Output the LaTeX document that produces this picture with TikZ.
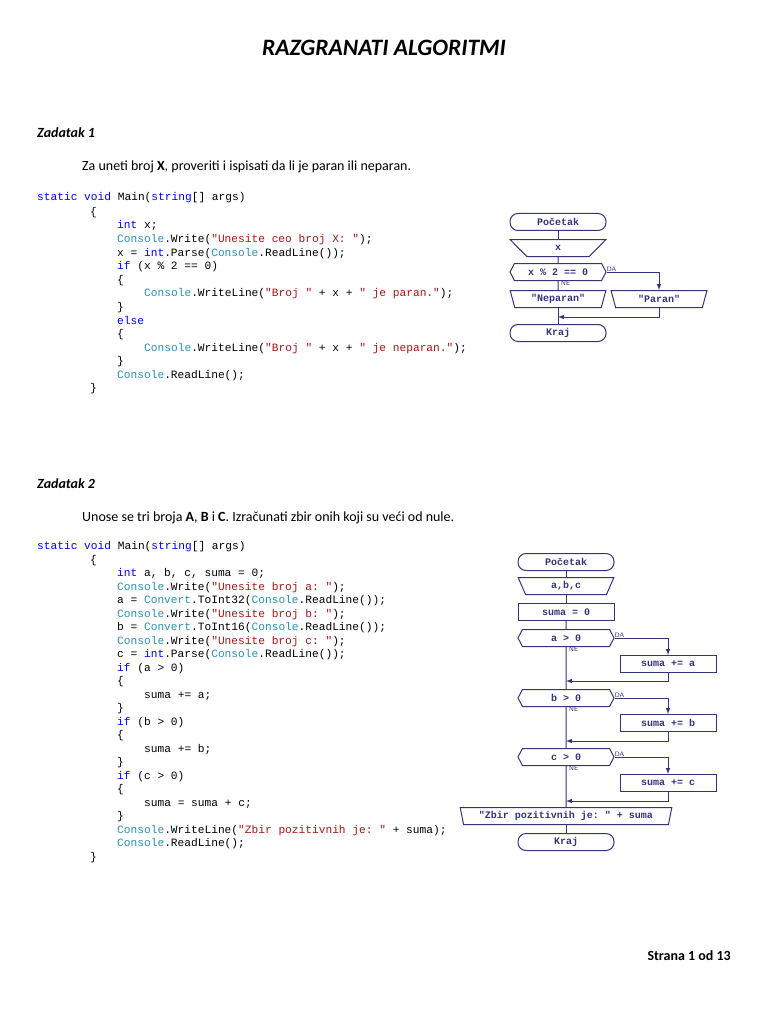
\documentclass[tikz,border=0pt]{standalone}
\usepackage{fontspec}
\setmainfont{Carlito}
\setmonofont{Liberation Mono}
\usetikzlibrary{shapes.geometric,shapes.symbols}
\definecolor{navy}{RGB}{52,52,120}
\definecolor{kwblue}{RGB}{0,0,255}
\definecolor{clteal}{RGB}{43,145,175}
\definecolor{strred}{RGB}{163,21,21}
\newcommand\kwd[1]{\textcolor{kwblue}{#1}}
\newcommand\cls[1]{\textcolor{clteal}{#1}}
\newcommand\strg[1]{\textcolor{strred}{#1}}
\newcommand\codeln[4]{\node[code] (#1) at (#2,#3+4) {#4};}
\tikzset{
  code/.style={anchor=base west,inner sep=0,font=\ttfamily\fontsize{11.2}{13}\selectfont},
  txt/.style={anchor=base west,inner sep=0,font=\fontsize{14}{16}\selectfont},
  box/.style={draw=navy,line width=1pt,text=navy,inner sep=0,minimum height=17,
    font=\ttfamily\bfseries\fontsize{10}{12}\selectfont},
  term/.style={box,rounded corners=8,minimum width=96},
  proc/.style={box,minimum width=96},
  inout/.style={box,trapezium,trapezium stretches=true,shape border rotate=180,
    trapezium angle=73,minimum width=96},
  decis/.style={box,signal,signal to=west and east,signal pointer angle=125,minimum width=96},
  flow/.style={draw=navy,line width=1pt},
  arr/.style={flow,-latex},
  lbl/.style={text=navy,inner sep=0,font=\sffamily\fontsize{6.5}{7}\selectfont}
}
\begin{document}
\begin{tikzpicture}[x=1pt,y=-1pt]
	\useasboundingbox (0,0) rectangle (768,1024);

	% headings
	\node[font=\bfseries\itshape\fontsize{23.5}{28}\selectfont] (title) at (384,48) {RAZGRANATI ALGORITMI};
	\node[txt,font=\bfseries\itshape\fontsize{14}{16}\selectfont] (z1) at (37,138) {Zadatak 1};
	\node[txt] (t1) at (82,171) {Za uneti broj \textbf{X}, proveriti i ispisati da li je paran ili neparan.};
	\node[txt,font=\bfseries\itshape\fontsize{14}{16}\selectfont] (z2) at (37,488) {Zadatak 2};
	\node[txt] (t2) at (82,521) {Unose se tri broja \textbf{A}, \textbf{B} i \textbf{C}. Izračunati zbir onih koji su veći od nule.};
	\node[txt,anchor=base east,font=\bfseries\fontsize{14}{16}\selectfont] (page) at (731,960) {Strana 1 od 13};

	% code 1
	\codeln{a1}{37}{197}{\kwd{static} \kwd{void} Main(\kwd{string}[] args)}
	\codeln{a2}{90}{211}{\{}
	\codeln{a3}{117}{225}{\kwd{int} x;}
	\codeln{a4}{117}{238}{\cls{Console}.Write(\strg{"Unesite ceo broj X: "});}
	\codeln{a5}{117}{252}{x = \kwd{int}.Parse(\cls{Console}.ReadLine());}
	\codeln{a6}{117}{265}{\kwd{if} (x \% 2 == 0)}
	\codeln{a7}{117}{279}{\{}
	\codeln{a8}{144}{292}{\cls{Console}.WriteLine(\strg{"Broj "} + x + \strg{" je paran."});}
	\codeln{a9}{117}{306}{\}}
	\codeln{a10}{117}{320}{\kwd{else}}
	\codeln{a11}{117}{333}{\{}
	\codeln{a12}{144}{347}{\cls{Console}.WriteLine(\strg{"Broj "} + x + \strg{" je neparan."});}
	\codeln{a13}{117}{360}{\}}
	\codeln{a14}{117}{374}{\cls{Console}.ReadLine();}
	\codeln{a15}{90}{387}{\}}

	% code 2
	\codeln{b1}{37}{545}{\kwd{static} \kwd{void} Main(\kwd{string}[] args)}
	\codeln{b2}{90}{559}{\{}
	\codeln{b3}{117}{572}{\kwd{int} a, b, c, suma = 0;}
	\codeln{b4}{117}{586}{\cls{Console}.Write(\strg{"Unesite broj a: "});}
	\codeln{b5}{117}{599}{a = \cls{Convert}.ToInt32(\cls{Console}.ReadLine());}
	\codeln{b6}{117}{613}{\cls{Console}.Write(\strg{"Unesite broj b: "});}
	\codeln{b7}{117}{626}{b = \cls{Convert}.ToInt16(\cls{Console}.ReadLine());}
	\codeln{b8}{117}{640}{\cls{Console}.Write(\strg{"Unesite broj c: "});}
	\codeln{b9}{117}{653}{c = \kwd{int}.Parse(\cls{Console}.ReadLine());}
	\codeln{b10}{117}{667}{\kwd{if} (a > 0)}
	\codeln{b11}{117}{680}{\{}
	\codeln{b12}{144}{694}{suma += a;}
	\codeln{b13}{117}{707}{\}}
	\codeln{b14}{117}{721}{\kwd{if} (b > 0)}
	\codeln{b15}{117}{734}{\{}
	\codeln{b16}{144}{748}{suma += b;}
	\codeln{b17}{117}{761}{\}}
	\codeln{b18}{117}{775}{\kwd{if} (c > 0)}
	\codeln{b19}{117}{788}{\{}
	\codeln{b20}{144}{802}{suma = suma + c;}
	\codeln{b21}{117}{815}{\}}
	\codeln{b22}{117}{829}{\cls{Console}.WriteLine(\strg{"Zbir pozitivnih je: "} + suma);}
	\codeln{b23}{117}{842}{\cls{Console}.ReadLine();}
	\codeln{b24}{90}{856}{\}}

	% flowchart 1
	\node[term] (p1) at (558,222) {Početak};
	\node[inout] (in1) at (558,248) {x};
	\node[decis] (d1) at (558,272) {x \% 2 == 0};
	\node[inout] (np) at (558,299) {"Neparan"};
	\node[inout] (pa) at (659,299) {"Paran"};
	\node[term] (k1) at (558,333) {Kraj};
	\coordinate (j0) at (558,317);
	\node[lbl,anchor=south west] (da0) at (d1.east) {DA};
	\node[lbl,anchor=north west] (ne0) at ([xshift=3]d1.south) {NE};
	\draw[flow] (p1) -- (in1);
	\draw[flow] (in1) -- (d1);
	\draw[flow] (d1) -- (np);
	\draw[flow] (np) -- (k1);
	\draw[arr] (d1.east) -| (pa.north);
	\draw[arr] (pa.south) |- (j0);

	% flowchart 2
	\node[term] (p2) at (566,562) {Početak};
	\node[inout] (in2) at (566,586) {a,b,c};
	\node[proc] (s0) at (566,612) {suma = 0};
	\node[decis] (da) at (566,638) {a > 0};
	\node[proc] (sa) at (668,664) {suma += a};
	\node[decis] (db) at (566,698) {b > 0};
	\node[proc] (sb) at (668,723) {suma += b};
	\node[decis] (dc) at (566,757) {c > 0};
	\node[proc] (sc) at (668,783) {suma += c};
	\node[inout,minimum width=212] (out) at (566,816) {"Zbir pozitivnih je: " + suma};
	\node[term] (k2) at (566,842) {Kraj};
	\coordinate (ja) at (566,681);
	\coordinate (jb) at (566,741);
	\coordinate (jc) at (566,801);
	\draw[flow] (p2) -- (in2);
	\draw[flow] (in2) -- (s0);
	\draw[flow] (s0) -- (da);
	\draw[flow] (da) -- (db);
	\draw[flow] (db) -- (dc);
	\draw[flow] (dc) -- (out);
	\draw[flow] (out) -- (k2);
	\foreach \d/\s/\j in {da/sa/ja, db/sb/jb, dc/sc/jc} {
		\node[lbl,anchor=south west] (da\d) at (\d.east) {DA};
		\node[lbl,anchor=north west] (ne\d) at ([xshift=3]\d.south) {NE};
		\draw[arr] (\d.east) -| (\s.north);
		\draw[arr] (\s.south) |- (\j);
	}

\end{tikzpicture}
\end{document}
